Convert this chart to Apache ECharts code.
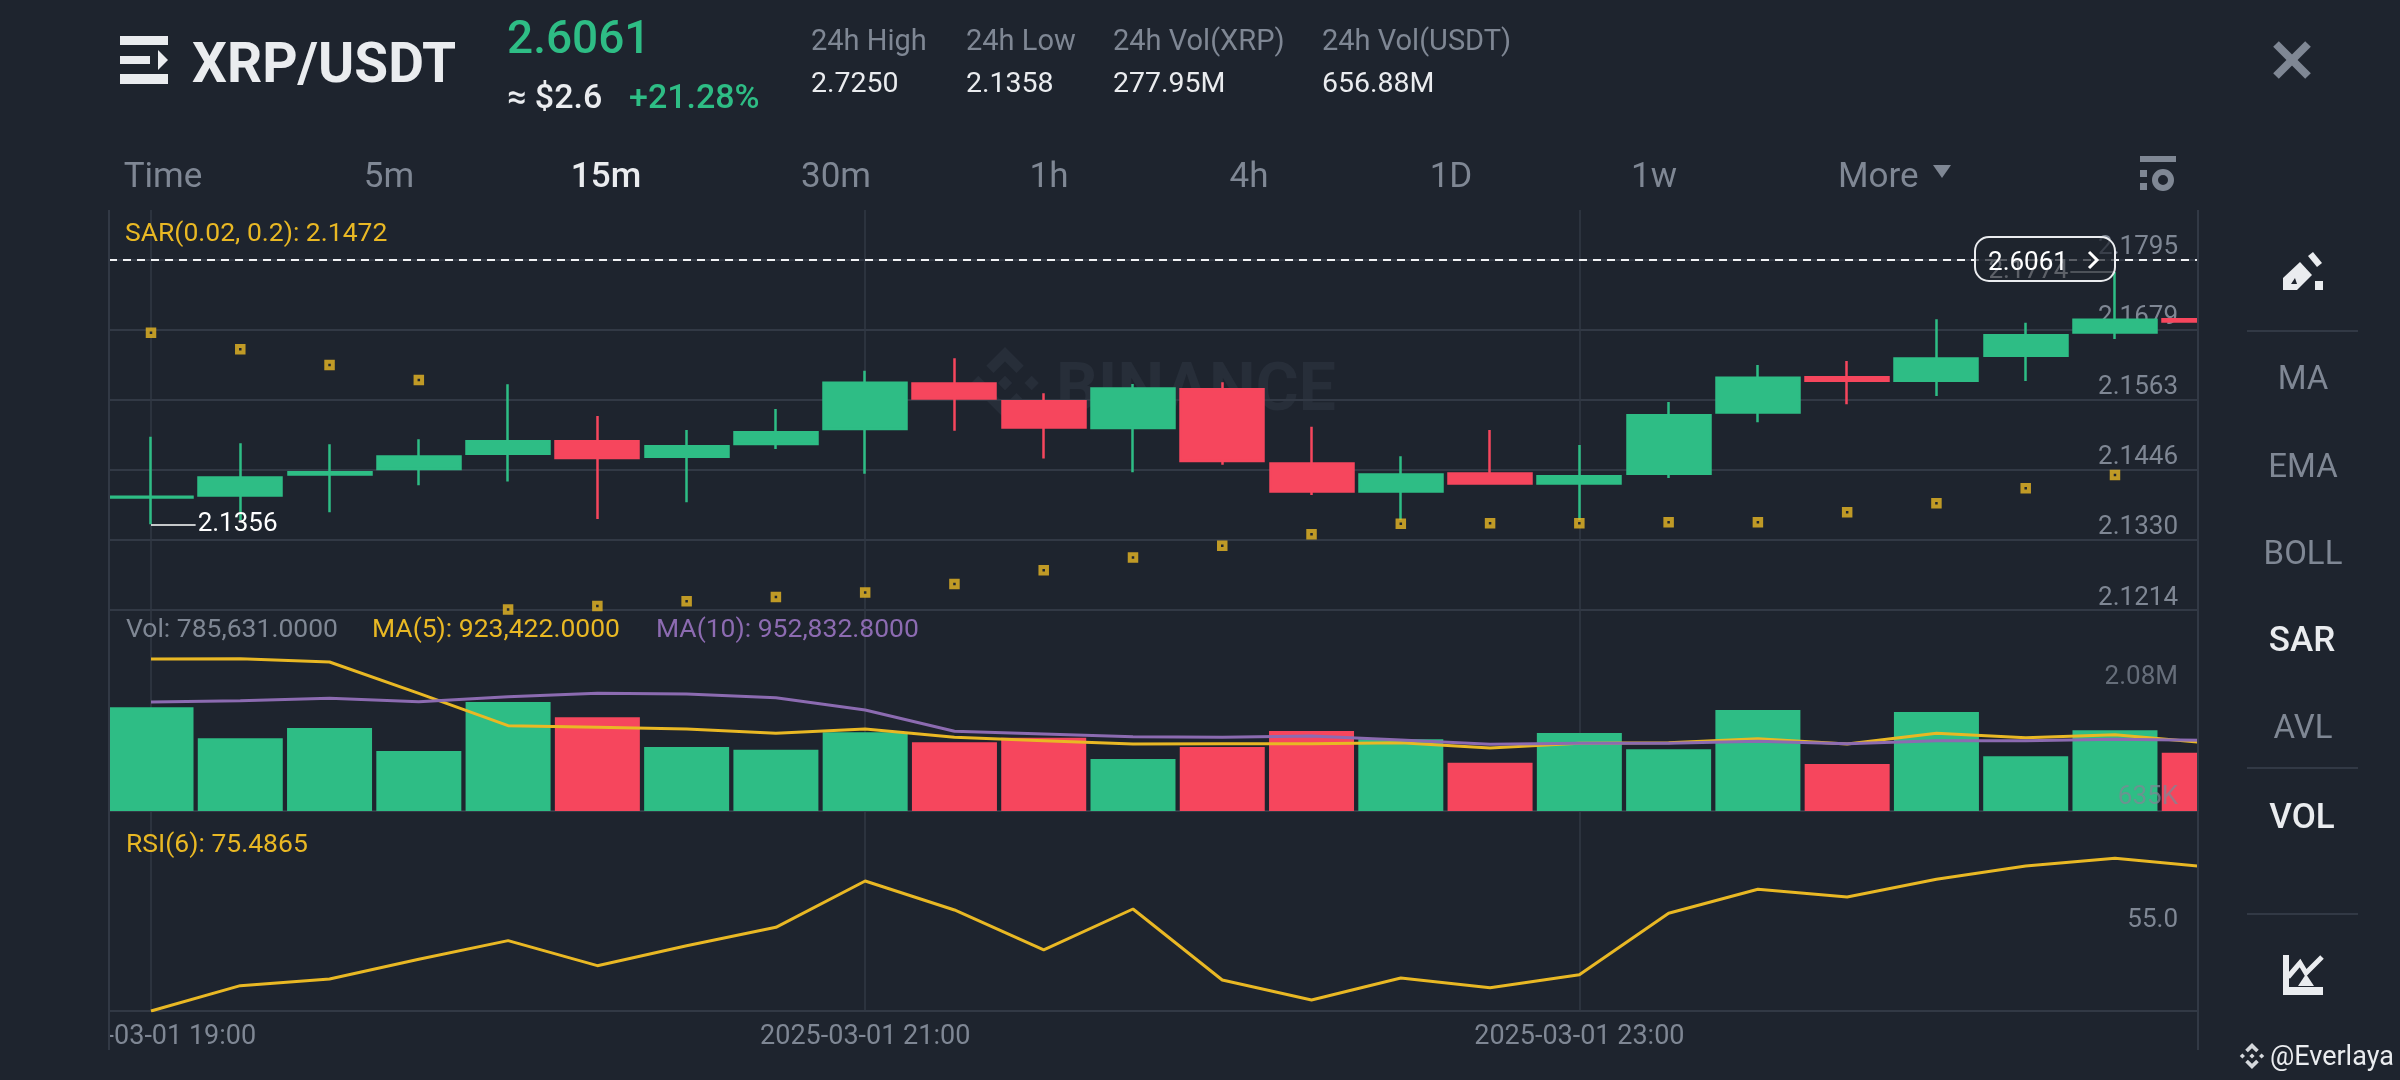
<!DOCTYPE html>
<html>
<head>
<meta charset="utf-8">
<title>XRP/USDT</title>
<script src="https://cdn.jsdelivr.net/npm/echarts@6/dist/echarts.min.js"></script>
<style>html,body{margin:0;padding:0;background:#1E242E}#c{width:2400px;height:1080px}</style>
</head>
<body>
<div id="c"></div>
<script>
const times = ['2025-03-01 19:00','2025-03-01 19:15','2025-03-01 19:30','2025-03-01 19:45','2025-03-01 20:00','2025-03-01 20:15','2025-03-01 20:30','2025-03-01 20:45','2025-03-01 21:00','2025-03-01 21:15','2025-03-01 21:30','2025-03-01 21:45','2025-03-01 22:00','2025-03-01 22:15','2025-03-01 22:30','2025-03-01 22:45','2025-03-01 23:00','2025-03-01 23:15','2025-03-01 23:30','2025-03-01 23:45','2025-03-02 00:00','2025-03-02 00:15','2025-03-02 00:30','2025-03-02 00:45'];
const opens  = [2.14005,2.14038,2.14386,2.14474,2.14728,2.14937,2.14679,2.14889,2.15137,2.15892,2.15599,2.15154,2.15798,2.14567,2.14104,2.14401,2.14237,2.14397,2.15413,2.15997,2.15938,2.16352,2.16738,2.16958];
const closes = [2.14015,2.14335,2.14423,2.14683,2.14937,2.14657,2.14854,2.15086,2.15903,2.15645,2.15165,2.15809,2.14607,2.14104,2.14385,2.14237,2.14357,2.15368,2.15986,2.15938,2.16306,2.16693,2.16947,2.16921];
const lows   = [2.1356,2.13632,2.13759,2.14206,2.14267,2.13648,2.13924,2.14808,2.14399,2.15111,2.14648,2.14421,2.14548,2.14046,2.13632,2.14217,2.13632,2.14327,2.15249,2.15548,2.15686,2.15934,2.1663,2.16878];
const highs  = [2.15012,2.14902,2.14885,2.14968,2.15879,2.15354,2.15122,2.1547,2.16105,2.1631,2.1573,2.15885,2.15912,2.15178,2.14686,2.15122,2.14874,2.15586,2.16199,2.16266,2.16956,2.16901,2.1774,2.16978];
const sar    = [2.16735,2.16459,2.16199,2.15951,2.1215,2.12207,2.12284,2.12356,2.12428,2.12571,2.12798,2.13008,2.13206,2.13394,2.13571,2.13576,2.13576,2.13593,2.13593,2.13759,2.13908,2.14156,2.14377,2.1472];
const volumes = [1400000,981000,1120000,810000,1471000,1265000,864000,828000,1062000,927000,990000,702000,864000,1080000,968000,652000,1053000,833000,1364000,635000,1337000,738000,1089000,785631];
const ma5  = [2052000,2056500,2011500,1588500,1152000,1129500,1107000,1048500,1107000,994500,949500,904500,909000,909000,922500,850500,913500,922500,976500,904500,1048500,990000,1030500,923422];
const ma10 = [1471500,1489500,1521000,1476000,1543500,1588500,1579500,1530000,1363500,1075500,1039500,1003500,994500,1012500,958500,900000,913500,913500,940500,909000,949500,949500,967500,952832.8];
const rsi  = [30,37.98,40.08,46.28,52.16,44.28,50.58,56.36,70.95,61.82,49.22,62.13,39.77,33.47,40.4,37.35,41.45,60.77,68.33,65.91,71.48,75.68,78.09,75.4865];
const priceTicks = [2.1214,2.133,2.1446,2.1563,2.1679,2.1795];
const volTicks = [635000,2080000];
const rsiTicks = [55];
const timeTicks = ['2025-03-01 19:00','2025-03-01 21:00','2025-03-01 23:00'];
const lastPriceLevel = 2.1795;
const lowLabel = 2.1356, highLabel = 2.1774;

const BG='#1E242E', GRID='#323945', GREEN='#2EBD85', RED='#F6465D', YEL='#E9B824', PUR='#8C6BB1', GREY='#7F8794', WHITE='#EAECEF', WM='#272E39';
const FONT='Roboto';
const STEP=900000;
const ms=s=>new Date(s.replace(' ','T')+':00').getTime();
const t=times.map(ms);
const tickMs=timeTicks.map(ms);
const xMin=t[0]-0.4705*STEP, xMax=t[0]+22.93*STEP;
const up=closes.map((c,i)=>c>=opens[i]);

const T=(x,y,text,size,fill,weight,align,z)=>({type:'text',x,y:y+3,z:z??60,silent:true,style:{text,fill,fontFamily:FONT,fontSize:size,fontWeight:weight||400,align:align||'left',verticalAlign:'middle'}});
const R=(x,y,w,h,fill,z,r)=>({type:'rect',z:z??60,silent:true,shape:{x,y,width:w,height:h,r:r||0},style:{fill}});
const L=(x1,y1,x2,y2,stroke,w,z)=>({type:'line',z:z??60,silent:true,shape:{x1,y1,x2,y2},style:{stroke,lineWidth:w}});
const P=(pts,fill,z)=>({type:'polygon',z:z??60,silent:true,shape:{points:pts},style:{fill}});
const logo=(cx,cy,s,fill,z)=>{
  const m=pts=>P(pts.map(p=>[cx+p[0]*s,cy+p[1]*s]),fill,z);
  const d=(x,r)=>m([[x,-r],[x+r,0],[x,r],[x-r,0]]);
  return [m([[0,-1],[0.52,-0.48],[0.32,-0.28],[0,-0.6],[-0.32,-0.28],[-0.52,-0.48]]),
          m([[0,1],[0.52,0.48],[0.32,0.28],[0,0.6],[-0.32,0.28],[-0.52,0.48]]),
          d(-0.74,0.2),d(0.74,0.2),d(0,0.2)];
};

const graphicEls=[
  // watermark
  ...logo(1005,383,36,WM,0),
  {type:'text',x:1056,y:393,z:0,silent:true,style:{text:'BINANCE',fill:WM,fontFamily:FONT,fontSize:66,fontWeight:700,align:'left',verticalAlign:'middle'}},
  // covers for overflow past the plot
  R(0,1012,108.5,60,BG,40),
  R(0,205,108.5,810,BG,40),
  R(2198.5,205,201.5,875,BG,40),
  L(109,210,109,1050,GRID,2,45),
  L(2198,210,2198,1050,GRID,2,45),
  // header
  R(120,36,48,9,WHITE),R(120,56,30,8,WHITE),R(120,74,48,10,WHITE),
  P([[158,50],[168,60],[158,70]],WHITE),
  T(192,65,'XRP/USDT',55,WHITE,700),
  T(507,38,'2.6061',46,GREEN,500),
  T(507,96,'≈ $2.6',34,WHITE,500),
  T(629,96,'+21.28%',34,GREEN,500),
  T(811,40,'24h High',29,GREY),T(811,82,'2.7250',28.5,WHITE),
  T(966,40,'24h Low',29,GREY),T(966,82,'2.1358',28.5,WHITE),
  T(1113,40,'24h Vol(XRP)',29,GREY),T(1113,82,'277.95M',28.5,WHITE),
  T(1322,40,'24h Vol(USDT)',29,GREY),T(1322,82,'656.88M',28.5,WHITE),
  L(2276,44,2308,76,'#7F8794',8),L(2308,44,2276,76,'#7F8794',8),
  // tabs
  T(163,175,'Time',35,GREY,400,'center'),
  T(389,175,'5m',35,GREY,400,'center'),
  T(606,175,'15m',35,WHITE,500,'center'),
  T(836,175,'30m',35,GREY,400,'center'),
  T(1049,175,'1h',35,GREY,400,'center'),
  T(1249,175,'4h',35,GREY,400,'center'),
  T(1451,175,'1D',35,GREY,400,'center'),
  T(1654,175,'1w',35,GREY,400,'center'),
  T(1838,175,'More',35,GREY),
  P([[1933,165],[1951,165],[1942,178]],GREY),
  R(2140,156,36,6,GREY),R(2140,170,7,7,GREY),R(2140,183,7,7,GREY),
  {type:'circle',z:60,silent:true,shape:{cx:2163,cy:180,r:8},style:{fill:BG,stroke:GREY,lineWidth:6}},
  // legends
  T(125,231,'SAR(0.02, 0.2): 2.1472',26.5,YEL),
  T(126,627,'Vol: 785,631.0000',26.5,GREY),
  T(372,627,'MA(5): 923,422.0000',26.5,YEL),
  T(656,627,'MA(10): 952,832.8000',26.5,PUR),
  T(126,842,'RSI(6): 75.4865',26.5,YEL),
  // last price tag
  {type:'rect',z:50,silent:true,shape:{x:1975,y:237,width:140,height:44,r:14},style:{fill:'rgba(30,36,46,0.72)',stroke:'#EAECEF',lineWidth:2}},
  T(2028,260,'2.6061',26,'#FFFFFF',400,'center',51),
  {type:'polyline',z:51,silent:true,shape:{points:[[2089,252],[2097,260],[2089,268]]},style:{stroke:'#FFFFFF',lineWidth:3,fill:'none'}},
  // right panel
  T(2303,378,'MA',33,GREY,400,'center'),
  T(2303,466,'EMA',33,GREY,400,'center'),
  T(2303,553,'BOLL',33,GREY,400,'center'),
  T(2302,639,'SAR',35,WHITE,500,'center'),
  T(2303,727,'AVL',33,GREY,400,'center'),
  T(2302,816,'VOL',35,WHITE,500,'center'),
  L(2247,331,2358,331,GRID,2),L(2247,768,2358,768,GRID,2),L(2247,914,2358,914,GRID,2),
  // pencil
  P([[2283,290],[2283,278],[2300,262],[2312,275],[2297,290]],WHITE),
  P([[2308,256],[2313,252],[2322,263],[2317,267]],WHITE),
  R(2315,281,8,9,WHITE),
  P([[2291,284],[2297,284],[2295,278]],BG,61),
  // chart icon
  R(2283,955,6,40,WHITE),R(2283,987,40,8,WHITE),
  {type:'polyline',z:60,silent:true,shape:{points:[[2288,977],[2300,963],[2306,973],[2322,957]]},style:{stroke:WHITE,lineWidth:5,fill:'none'}},
  P([[2306,974],[2314,986],[2298,986]],WHITE),
  // footer
  ...logo(2252,1056,13,'#D5D8DC',60),
  T(2270,1055,'@Everlaya',27,WHITE)
];

const axisHidden={axisLine:{show:false},axisTick:{show:false},axisLabel:{show:false},splitLine:{show:false}};
const xBase=(gridIndex,extra)=>Object.assign({type:'value',gridIndex,min:xMin,max:xMax,axisTick:{show:false,customValues:tickMs},axisLabel:{show:false,customValues:tickMs},axisLine:{show:false},splitLine:{show:true,lineStyle:{color:GRID,width:1.5}}},extra||{});

const option={
  backgroundColor:BG,
  animation:false,
  textStyle:{fontFamily:FONT},
  grid:[
    {left:109,width:2089,top:210,height:400},
    {left:109,width:2089,top:610,height:201},
    {left:109,width:2089,top:811,height:200}
  ],
  xAxis:[
    xBase(0),
    xBase(1,{axisLine:{show:true,onZero:false,lineStyle:{color:GRID,width:2}}}),
    xBase(2,{axisLine:{show:true,onZero:false,lineStyle:{color:GRID,width:2}},
      axisLabel:{show:true,customValues:tickMs,margin:13,color:GREY,fontFamily:FONT,fontSize:27,hideOverlap:false,showMinLabel:true,
        formatter:v=>echarts.time.format(v,'{yyyy}-{MM}-{dd} {HH}:{mm}',false)}})
  ],
  yAxis:[
    {type:'value',gridIndex:0,position:'right',min:2.1214,max:2.18767,
      axisLine:{show:false},axisTick:{show:false,customValues:priceTicks},
      splitLine:{show:true,lineStyle:{color:GRID,width:2}},
      axisLabel:{inside:true,customValues:priceTicks,margin:20,color:GREY,fontFamily:FONT,fontSize:26,lineHeight:24,verticalAlign:'bottom',formatter:v=>v.toFixed(4)}},
    {type:'value',gridIndex:1,position:'right',min:0,max:2713500,...axisHidden},
    {type:'value',gridIndex:1,position:'right',min:466412,max:2886854,z:10,
      axisLine:{show:false},axisTick:{show:false,customValues:volTicks},splitLine:{show:false},
      axisLabel:{inside:true,customValues:volTicks,margin:20,color:'rgba(127,135,148,0.75)',fontFamily:FONT,fontSize:26,lineHeight:22,verticalAlign:'middle',
        formatter:v=>v>=1e6?(v/1e6).toFixed(2)+'M':(v/1e3).toFixed(0)+'K'}},
    {type:'value',gridIndex:2,position:'right',min:30,max:93,
      axisLine:{show:false},axisTick:{show:false,customValues:rsiTicks},splitLine:{show:false},
      axisLabel:{inside:true,customValues:rsiTicks,margin:20,color:GREY,fontFamily:FONT,fontSize:26,lineHeight:22,verticalAlign:'bottom',formatter:v=>v.toFixed(1)}}
  ],
  series:[
    {type:'candlestick',name:'XRP/USDT',xAxisIndex:0,yAxisIndex:0,barWidth:83.5,
      data:t.map((x,i)=>[x,opens[i],closes[i],lows[i],highs[i]]),
      itemStyle:{color:GREEN,color0:RED,borderColor:GREEN,borderColor0:RED,borderWidth:2.5},
      markLine:{silent:true,symbol:'none',animation:false,precision:4,
        data:[
          {yAxis:lastPriceLevel,lineStyle:{color:'#F2F3F5',type:[8,6],width:2},label:{show:false}},
          [{coord:[t[0],lowLabel],lineStyle:{color:'#FFFFFF',width:1.5,type:'solid'},label:{show:true,position:'end',distance:2,formatter:lowLabel.toFixed(4),color:'#FFFFFF',fontFamily:FONT,fontSize:26}},{coord:[t[0]+0.5*STEP,lowLabel]}],
          [{coord:[t[22],highLabel],lineStyle:{color:'#FFFFFF',width:1.5,type:'solid'},label:{show:true,position:'end',distance:2,formatter:highLabel.toFixed(4),color:'#FFFFFF',fontFamily:FONT,fontSize:26}},{coord:[t[22]-0.5*STEP,highLabel]}]
        ]}},
    {type:'scatter',name:'SAR',xAxisIndex:0,yAxisIndex:0,symbol:'rect',symbolSize:6.5,z:5,
      data:t.map((x,i)=>[x,sar[i]]),
      itemStyle:{color:BG,borderColor:YEL,borderWidth:4}},
    {type:'bar',name:'Vol',xAxisIndex:1,yAxisIndex:1,barWidth:85,
      data:t.map((x,i)=>({value:[x,volumes[i]],itemStyle:{color:up[i]?GREEN:RED}}))},
    {type:'line',name:'MA(5)',xAxisIndex:1,yAxisIndex:1,symbol:'none',z:4,data:t.map((x,i)=>[x,ma5[i]]),lineStyle:{color:YEL,width:3}},
    {type:'line',name:'MA(10)',xAxisIndex:1,yAxisIndex:1,symbol:'none',z:5,data:t.map((x,i)=>[x,ma10[i]]),lineStyle:{color:PUR,width:3}},
    {type:'line',name:'RSI(6)',xAxisIndex:2,yAxisIndex:3,symbol:'none',data:t.map((x,i)=>[x,rsi[i]]),lineStyle:{color:YEL,width:3}}
  ],
  graphic:{elements:graphicEls}
};
const chart=echarts.init(document.getElementById('c'),null,{renderer:'canvas',width:2400,height:1080});
chart.setOption(option);
</script>
</body>
</html>
